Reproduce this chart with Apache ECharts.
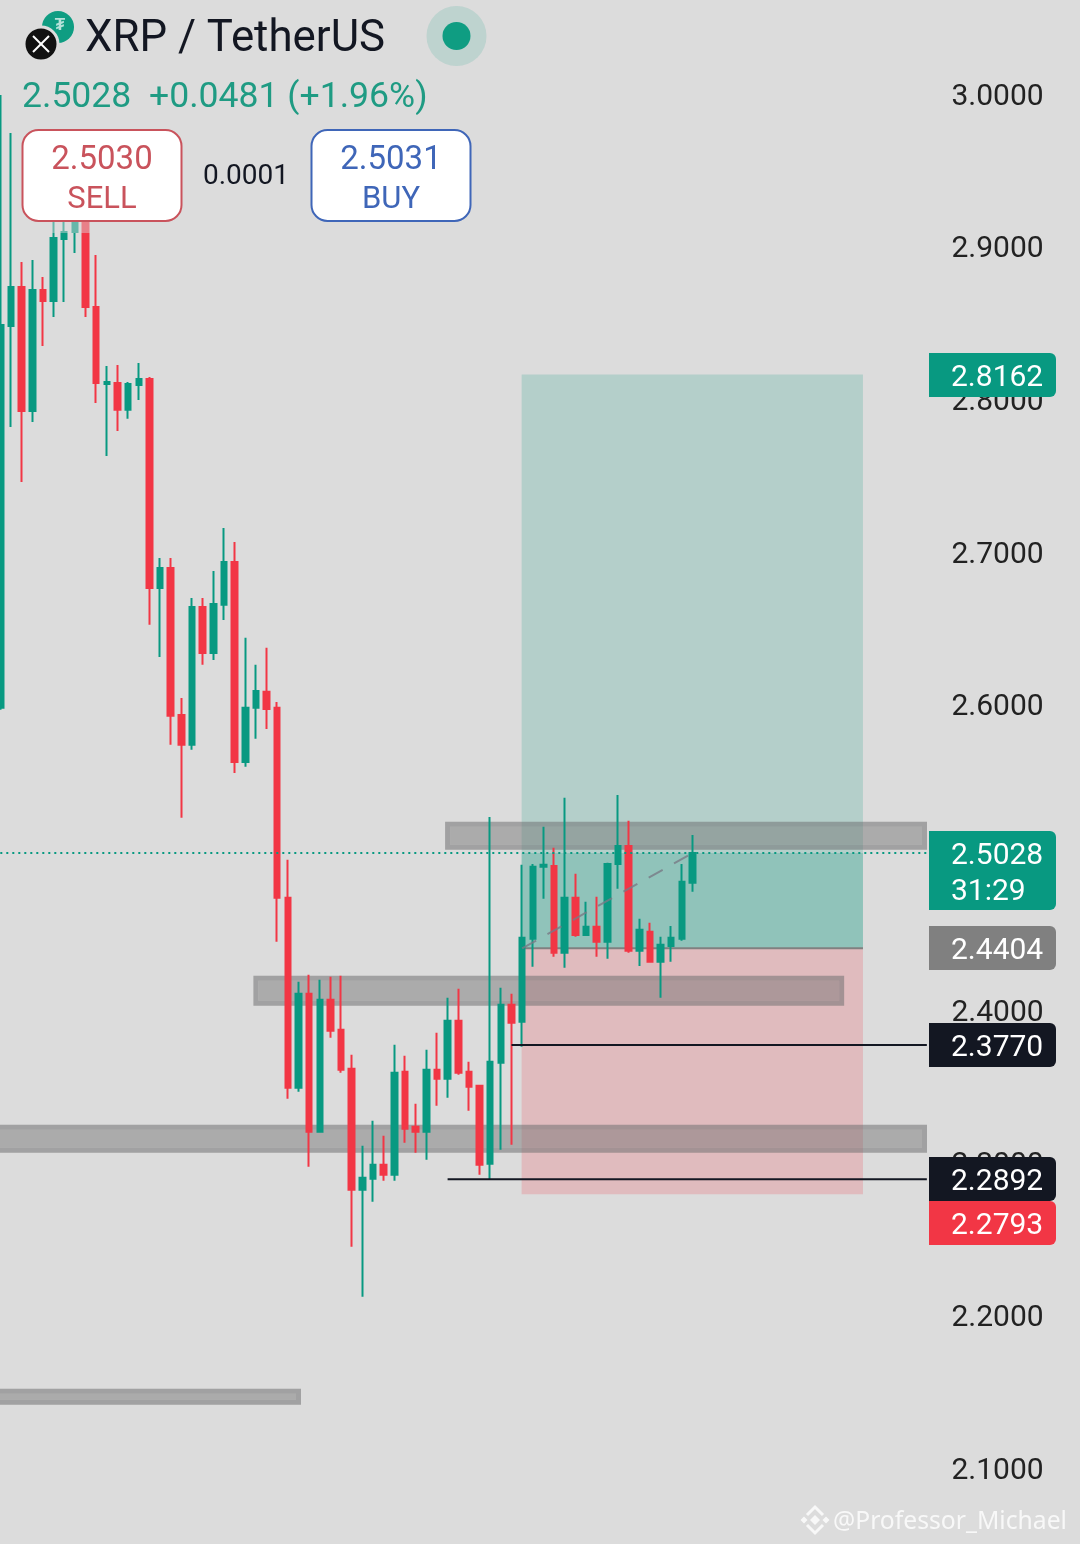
<!DOCTYPE html>
<html>
<head>
<meta charset="utf-8">
<title>XRP / TetherUS</title>
<script src="https://cdn.jsdelivr.net/npm/echarts@6/dist/echarts.min.js"></script>
<style>
  html, body { margin: 0; padding: 0; background: #dcdcdc; }
  #chart { width: 1080px; height: 1544px; }
</style>
</head>
<body>
<div id="chart"></div>
<script>
// candle values
const opens = [2.5979,2.8481,2.8736,2.7924,2.8716,2.8644,2.9050,2.9096,2.9188,2.8605,2.8101,2.8107,2.7931,2.8094,2.8134,2.6765,2.6896,2.5933,2.5737,2.6640,2.6339,2.6654,2.6935,2.5625,2.5979,2.6084,2.5979,2.4735,2.3490,2.4106,2.3202,2.4067,2.3870,2.3615,2.2822,2.2895,2.2986,2.2921,2.3595,2.3235,2.3202,2.3608,2.3549,2.3929,2.3595,2.3504,2.2993,2.3654,2.4034,2.3923,2.4466,2.4938,2.4944,2.4375,2.4735,2.4492,2.4545,2.4447,2.4957,2.5075,2.4388,2.4512,2.4316,2.4420,2.4466,2.4833];
const closes = [2.8487,2.8736,2.7924,2.8716,2.8644,2.9057,2.9096,2.9208,2.8605,2.8107,2.8114,2.7931,2.8101,2.8134,2.6765,2.6896,2.5927,2.5737,2.6640,2.6339,2.6660,2.6935,2.5625,2.5979,2.6090,2.5972,2.4735,2.3490,2.4106,2.3202,2.4067,2.3864,2.3608,2.2822,2.2901,2.2986,2.2921,2.3589,2.3222,2.3202,2.3608,2.3549,2.3929,2.3589,2.3497,2.2986,2.3661,2.4034,2.3916,2.4473,2.4938,2.4951,2.4375,2.4735,2.4492,2.4545,2.4447,2.4957,2.5075,2.4388,2.4525,2.4316,2.4427,2.4473,2.4840,2.5028];
const lows = [2.5966,2.7819,2.7459,2.7852,2.8350,2.8540,2.8638,2.8959,2.8540,2.7976,2.7629,2.7793,2.7872,2.7996,2.6523,2.6313,2.5737,2.5259,2.5704,2.6261,2.6293,2.6555,2.5553,2.5593,2.5776,2.5841,2.4447,2.3418,2.3464,2.2973,2.3196,2.3818,2.3589,2.2449,2.2122,2.2744,2.2881,2.2881,2.3130,2.3065,2.3019,2.3373,2.3425,2.3576,2.3340,2.2921,2.2888,2.3085,2.3117,2.3759,2.4283,2.4728,2.4348,2.4276,2.4479,2.4492,2.4348,2.4335,2.4794,2.4375,2.4289,2.4309,2.4080,2.4316,2.4453,2.4774];
const highs = [2.9993,2.9745,2.8900,2.8913,2.8802,2.9208,2.9227,2.9253,2.9240,2.8946,2.8219,2.8225,2.8114,2.8238,2.8147,2.6961,2.6961,2.6044,2.6699,2.6699,2.6876,2.7158,2.7066,2.6438,2.6261,2.6372,2.6018,2.4984,2.4185,2.4231,2.4198,2.4217,2.4224,2.3707,2.3111,2.3274,2.3176,2.3772,2.3700,2.3386,2.3739,2.3851,2.4080,2.4139,2.3661,2.3510,2.5265,2.4145,2.4106,2.4951,2.4957,2.5200,2.5062,2.5390,2.4892,2.4709,2.4741,2.4964,2.5409,2.5239,2.4597,2.4571,2.4479,2.4551,2.4957,2.5147];

// bars to the right stay empty, the chart is scrolled back a bit
const barCount = 100;
const bars = Array.from({ length: barCount }, (_, i) => i);

// grey zones: first bar, last bar, top price, bottom price
const zones = [
  [42, 87, 2.5216, 2.5066],
  [24, 79, 2.4208, 2.4044],
  [0, 87, 2.3232, 2.3081],
  [0, 28, 2.1503, 2.1431]
];

// long position tool
const positionBars = [49, 81];
const entryPrice = 2.4404;
const targetPrice = 2.8162;
const stopPrice = 2.2793;
const lastPrice = 2.5028;
const lastBar = 65;
const countdown = '31:29';

// horizontal levels: first bar, last bar, price
const levels = [
  [48, 87, 2.3770],
  [42, 87, 2.2892]
];

const tagPrices = [2.8162, 2.4404, 2.3770, 2.2892, 2.2793];
const tagColors = ['#089981', '#808080', '#131722', '#131722', '#F23645'];

const GREEN = '#089981';
const RED = '#F23645';
const BG = '#dcdcdc';
const FONT = 'Roboto, sans-serif';

const chart = echarts.init(document.getElementById('chart'));
const candles = opens.map((o, i) => [o, closes[i], lows[i], highs[i]]);

function renderZone(params, api) {
  const a = api.coord([api.value(0), api.value(2)]);
  const b = api.coord([api.value(1), api.value(3)]);
  // zones that start at the first bar run on past the edge of the picture
  const x = api.value(0) === 0 ? a[0] - 10 : a[0];
  // and none goes past the price scale
  const right = Math.min(b[0], 924.5);
  const width = right - x;
  const height = b[1] - a[1];
  const edge = 5;
  return {
    type: 'group',
    children: [
      { type: 'rect', shape: { x: x + edge / 2, y: a[1] + edge / 2, width: width - edge, height: height - edge }, style: { fill: 'rgba(110,110,110,0.45)' } },
      { type: 'rect', shape: { x, y: a[1], width, height }, style: { fill: 'none', stroke: 'rgba(110,110,112,0.54)', lineWidth: edge } }
    ]
  };
}

function renderPosition(params, api) {
  const left = api.coord([positionBars[0], entryPrice])[0] - 0.5;
  const right = api.coord([positionBars[1], entryPrice])[0];
  const width = right - left;
  const y = p => api.coord([positionBars[0], p])[1];
  return {
    type: 'group',
    children: [
      { type: 'rect', shape: { x: left, y: y(targetPrice), width, height: y(entryPrice) - y(targetPrice) }, style: { fill: 'rgba(8,153,129,0.19)' } },
      { type: 'rect', shape: { x: left, y: y(lastPrice), width, height: y(entryPrice) - y(lastPrice) }, style: { fill: 'rgba(8,153,129,0.21)' } },
      { type: 'rect', shape: { x: left, y: y(entryPrice), width, height: y(stopPrice) - y(entryPrice) }, style: { fill: 'rgba(242,54,69,0.2)' } },
      { type: 'line', shape: { x1: left, y1: y(entryPrice), x2: right, y2: y(entryPrice) }, style: { stroke: '#808080', lineWidth: 2 } }
    ]
  };
}

function renderOverlay(params, api) {
  const children = [];
  const start = api.coord([0, lastPrice]);
  const end = api.coord([87, lastPrice]);
  // last price, dotted
  children.push({ type: 'line', shape: { x1: start[0], y1: start[1], x2: end[0], y2: end[1] }, style: { stroke: GREEN, lineWidth: 2, lineDash: [2, 4] } });
  // dashed path of the position tool
  const from = api.coord([positionBars[0], entryPrice]);
  const to = api.coord([lastBar, lastPrice]);
  children.push({ type: 'line', shape: { x1: from[0], y1: from[1], x2: to[0], y2: to[1] }, style: { stroke: 'rgba(120,123,134,0.8)', lineWidth: 2, lineDash: [16, 13] } });
  levels.forEach(l => {
    const a = api.coord([l[0], l[2]]);
    const b = api.coord([l[1], l[2]]);
    children.push({ type: 'line', shape: { x1: a[0], y1: a[1], x2: b[0], y2: b[1] }, style: { stroke: '#131722', lineWidth: 2 } });
  });
  return { type: 'group', children };
}

function priceTag(y, height, color, lines) {
  const children = [{
    type: 'rect',
    shape: { x: 929, y, width: 127, height, r: [0, 6, 6, 0] },
    style: { fill: color }
  }];
  lines.forEach((text, i) => {
    children.push({
      type: 'text',
      style: { text, x: 951, y: y + 25 + i * 36, fill: '#fff', font: `30px ${FONT}`, textVerticalAlign: 'middle', verticalAlign: 'middle' }
    });
  });
  return children;
}

function renderTag(params, api) {
  const i = params.dataIndex;
  const price = api.value(1);
  const tagTop = p => Math.round(api.coord([0, p])[1]) - 22;
  // a tag that would cover the one above slides down under it
  let y = tagTop(price);
  if (i > 0 && y < tagTop(tagPrices[i - 1]) + 44) y = tagTop(tagPrices[i - 1]) + 44;
  return { type: 'group', children: priceTag(y, 44, tagColors[i], [price.toFixed(4)]) };
}

function renderLastTag(params, api) {
  const y = Math.round(api.coord([0, lastPrice])[1]);
  return { type: 'group', children: priceTag(y - 22, 79, GREEN, [lastPrice.toFixed(4), countdown]) };
}

function label(text, x, y, size, color, align, family) {
  return {
    type: 'text',
    z: 12,
    style: { text, x, y: y + 3, fill: color, font: `${size}px ${family || FONT}`, textAlign: align || 'left', textVerticalAlign: 'middle', verticalAlign: 'middle' }
  };
}

function button(x, color, price, side) {
  return [
    { type: 'rect', z: 11, shape: { x: x + 0.5, y: 130, width: 159, height: 91, r: 16 }, style: { fill: '#fff', stroke: color, lineWidth: 2 } },
    label(price, x + 80, 158, 33, color, 'center'),
    label(side, x + 80, 197, 31, color, 'center')
  ];
}

function diamond(cx, cy, r) {
  return { type: 'polygon', z: 12, shape: { points: [[cx - r, cy], [cx, cy - r], [cx + r, cy], [cx, cy + r]] }, style: { fill: 'rgba(255,255,255,0.8)' } };
}

function chevron(cx, cy, dir) {
  return {
    type: 'polyline',
    z: 12,
    shape: { points: [[cx - 8, cy + dir * 8], [cx, cy], [cx + 8, cy + dir * 8]] },
    style: { stroke: 'rgba(255,255,255,0.8)', fill: 'none', lineWidth: 3 }
  };
}

chart.setOption({
  animation: false,
  backgroundColor: BG,
  grid: { left: 0.3, top: 94, width: 1054.35, height: 1374, containLabel: false },
  xAxis: { type: 'category', data: bars, show: false, boundaryGap: false },
  yAxis: {
    type: 'value',
    position: 'right',
    min: 2.1,
    max: 3.0,
    interval: 0.1,
    axisLine: { show: false },
    axisTick: { show: false },
    splitLine: { show: false },
    axisLabel: {
      inside: true,
      margin: 11,
      verticalAlign: 'top',
      lineHeight: 6,
      fontFamily: 'Roboto',
      fontSize: 30,
      color: '#222',
      formatter: v => v.toFixed(4)
    }
  },
  series: [
    { type: 'custom', z: 1, data: [[0, entryPrice]], renderItem: renderPosition, silent: true },
    { type: 'custom', z: 1, data: zones, encode: { x: [0, 1], y: [2, 3] }, renderItem: renderZone, silent: true },
    {
      type: 'candlestick',
      z: 2,
      data: candles,
      barWidth: 6,
      itemStyle: { color: GREEN, color0: RED, borderColor: GREEN, borderColor0: RED, borderWidth: 2 }
    },
    { type: 'custom', z: 3, data: [[0, lastPrice]], renderItem: renderOverlay, silent: true },
    { type: 'custom', z: 4, data: tagPrices.map(p => [0, p]), encode: { x: 0, y: 1 }, renderItem: renderTag, silent: true },
    { type: 'custom', z: 4, data: [[0, lastPrice]], renderItem: renderLastTag, silent: true }
  ],
  graphic: [
    // candles fade out under the buttons
    { type: 'rect', z: 10, shape: { x: 22, y: 221, width: 160, height: 12 }, style: { fill: 'rgba(220,220,220,0.45)' } },
    // symbol icons
    { type: 'circle', z: 11, shape: { cx: 58, cy: 27, r: 16 }, style: { fill: '#0f9d82' } },
    { type: 'text', z: 12, x: 60, y: 26, style: { text: '₮', x: 0, y: 0, fill: 'rgba(255,255,255,0.7)', font: `bold 17px ${FONT}`, textAlign: 'center', textVerticalAlign: 'middle', verticalAlign: 'middle' } },
    { type: 'circle', z: 12, shape: { cx: 41, cy: 44, r: 17 }, style: { fill: '#111', stroke: BG, lineWidth: 3 } },
    { type: 'line', z: 13, shape: { x1: 33, y1: 36, x2: 49, y2: 52 }, style: { stroke: '#fff', lineWidth: 2 } },
    { type: 'line', z: 13, shape: { x1: 49, y1: 36, x2: 33, y2: 52 }, style: { stroke: '#fff', lineWidth: 2 } },
    label('XRP / TetherUS', 85, 37, 43.8, '#131722'),
    // market status dot
    { type: 'circle', z: 11, shape: { cx: 456.5, cy: 36, r: 30 }, style: { fill: 'rgba(8,153,129,0.14)' } },
    { type: 'circle', z: 12, shape: { cx: 456.5, cy: 36, r: 14 }, style: { fill: '#0f9d82' } },
    // price line
    label('2.5028', 22, 95, 35.6, '#1f9b83'),
    label('+0.0481 (+1.96%)', 149, 95, 35.6, '#1f9b83'),
    // buy and sell
    ...button(22, '#c9535c', '2.5030', 'SELL'),
    label('0.0001', 246, 174, 28, '#131722', 'center'),
    ...button(311, '#3f66b8', '2.5031', 'BUY'),
    // watermark
    diamond(815, 1520, 5),
    diamond(804, 1520, 3.5),
    diamond(826, 1520, 3.5),
    chevron(815, 1507, 1),
    chevron(815, 1533, -1),
    label('@Professor_Michael', 833, 1519, 24.7, 'rgba(255,255,255,0.8)', 'left', '"Noto Sans"')
  ]
});
</script>
</body>
</html>
